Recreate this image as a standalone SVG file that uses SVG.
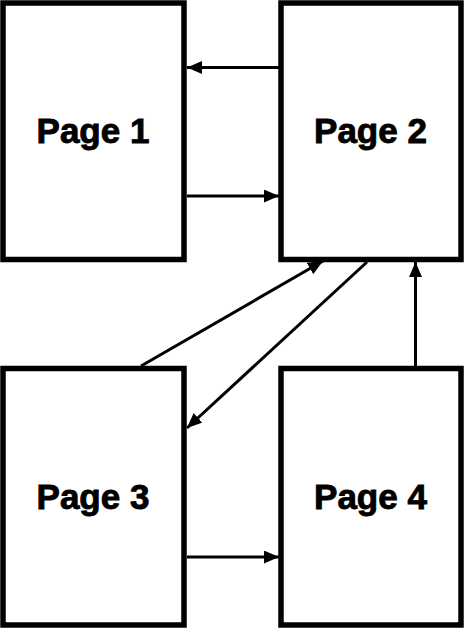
<svg xmlns="http://www.w3.org/2000/svg" width="464" height="628" viewBox="0 0 464 628">
<style>
.box{fill:#fff;stroke:#000;stroke-width:5.5}
.lbl{font-family:"Liberation Sans",Arial,sans-serif;font-weight:bold;font-size:35px;text-anchor:middle;fill:#000;stroke:#000;stroke-width:0.9}
.con{stroke:#000;stroke-width:3;fill:none;marker-end:url(#ah)}
</style>
<defs>
<marker id="ah" markerUnits="userSpaceOnUse" markerWidth="16" markerHeight="14" refX="15" refY="6.5" orient="auto">
<path d="M0,0 L15,6.5 L0,13 z" fill="#000"/>
</marker>
</defs>
<rect width="464" height="628" fill="#fff"/>
<g id="page1"><rect class="box" x="3" y="3" width="181" height="256.5"/><text class="lbl" x="93" y="143">Page 1</text></g>
<g id="page2"><rect class="box" x="281" y="3" width="180" height="256.5"/><text class="lbl" x="370.5" y="143">Page 2</text></g>
<g id="page3"><rect class="box" x="3" y="368.5" width="181" height="256.5"/><text class="lbl" x="93" y="509">Page 3</text></g>
<g id="page4"><rect class="box" x="281" y="368.5" width="180" height="256.5"/><text class="lbl" x="370.5" y="509">Page 4</text></g>
<g id="connectors">
<line class="con" x1="279" y1="67.5" x2="187" y2="67.5"/>
<line class="con" x1="187" y1="196" x2="279" y2="196"/>
<line class="con" x1="141" y1="366" x2="323" y2="261"/>
<line class="con" x1="367" y1="262" x2="187" y2="428"/>
<line class="con" x1="415.5" y1="366" x2="415.5" y2="262"/>
<line class="con" x1="187" y1="557" x2="279" y2="557"/>
</g>
</svg>
